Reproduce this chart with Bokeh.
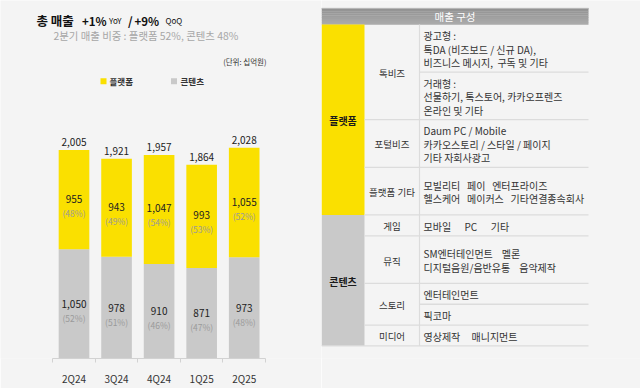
from bokeh.plotting import figure
from bokeh.layouts import row
from bokeh.models import ColumnDataSource, FixedTicker, Range1d
from bokeh.core.properties import value
from bokeh.embed import file_html
from bokeh.resources import INLINE

# ---------------- data ----------------
quarters = ["2Q24", "3Q24", "4Q24", "1Q25", "2Q25"]
platform_rev = [955, 943, 1047, 993, 1055]
content_rev = [1050, 978, 910, 871, 973]
platform_share = ["(48%)", "(49%)", "(54%)", "(53%)", "(52%)"]
content_share = ["(52%)", "(51%)", "(46%)", "(47%)", "(48%)"]
series_names = ["플랫폼", "콘텐츠"]

title_main = "총 매출"
title_yoy = "+1%"
title_qoq = "+9%"
subtitle = "2분기 매출 비중 : 플랫폼 52%, 콘텐츠 48%"
unit_note = "(단위: 십억원)"

table_title = "매출 구성"
group_names = ["플랫폼", "콘텐츠"]
sub_group = ["플랫폼", "플랫폼", "플랫폼", "콘텐츠", "콘텐츠", "콘텐츠", "콘텐츠"]
sub_names = ["톡비즈", "포털비즈", "플랫폼 기타", "게임", "뮤직", "스토리", "미디어"]
sub_blocks = [
    [["광고형 :", "톡DA (비즈보드 / 신규 DA),", "비즈니스 메시지,  구독 및 기타"],
     ["거래형 :", "선물하기, 톡스토어, 카카오프렌즈", "온라인 및 기타"]],
    [["Daum PC / Mobile", "카카오스토리 / 스타일 / 페이지", "기타 자회사광고"]],
    [["모빌리티   페이   엔터프라이즈", "헬스케어   메이커스   기타연결종속회사"]],
    [["모바일      PC      기타"]],
    [["SM엔터테인먼트    멜론", "디지털음원/음반유통    음악제작"]],
    [["엔터테인먼트"], ["픽코마"]],
    [["영상제작     매니지먼트"]],
]

# ---------------- style ----------------
FONT = value("Noto Sans CJK KR")
BG = "#F4F4F4"
YELLOW = "#FAE000"
GREY = "#C9C9C9"
DARK = "#222222"
MID = "#9A9A9A"
RULE = "#DCDCDC"

W1, W2, H = 321, 319, 388

# ---------------- left: stacked bars ----------------
STEP = 42.55          # px per category
X0_PX = 73.5          # px of first bar centre
FB = 364.0            # frame bottom (px)
K = 0.1057            # px per unit
x_start = -X0_PX / STEP
x_end = x_start + W1 / STEP
y_end = FB / K


def fx(px):
    return x_start + px / STEP


def fy(py):
    return (FB - py) / K


p = figure(width=W1, height=H, output_backend="svg", toolbar_location=None,
           x_range=Range1d(x_start, x_end), y_range=Range1d(0, y_end),
           y_axis_location=None, min_border=0, min_border_bottom=int(H - FB),
           background_fill_color=BG, border_fill_color=BG, outline_line_color=None)
p.grid.visible = False

idx = list(range(len(quarters)))
totals = [a + b for a, b in zip(platform_rev, content_rev)]
src = ColumnDataSource(dict(
    x=idx,
    content=content_rev,
    total=totals,
    c_mid=[c / 2 for c in content_rev],
    p_mid=[c + pl / 2 for c, pl in zip(content_rev, platform_rev)],
    total_lbl=[f"{t:,}" for t in totals],
    c_lbl=[f"{c:,}" for c in content_rev],
    p_lbl=[f"{v:,}" for v in platform_rev],
    c_pct=content_share,
    p_pct=platform_share,
))

p.vbar(x="x", bottom=0, top="content", width=0.72, source=src,
       fill_color=GREY, line_color=None)
p.vbar(x="x", bottom="content", top="total", width=0.72, source=src,
       fill_color=YELLOW, line_color=None)

common = dict(source=src, text_font=FONT, text_align="center", text_baseline="middle")
p.text(x="x", y="total", text="total_lbl", y_offset=-8, text_font_size="10px",
       text_color=DARK, **common)
p.text(x="x", y="p_mid", text="p_lbl", y_offset=-1, text_font_size="10px",
       text_color=DARK, **common)
p.text(x="x", y="p_mid", text="p_pct", y_offset=13, text_font_size="8.5px",
       text_color=MID, **common)
p.text(x="x", y="c_mid", text="c_lbl", y_offset=0, text_font_size="10px",
       text_color=DARK, **common)
p.text(x="x", y="c_mid", text="c_pct", y_offset=14, text_font_size="8.5px",
       text_color=MID, **common)

ax = p.xaxis[0]
ax.ticker = FixedTicker(ticks=idx, minor_ticks=[i - 0.5 for i in range(len(quarters) + 1)])
ax.major_label_overrides = {i: q for i, q in enumerate(quarters)}
ax.bounds = (-0.5, len(quarters) - 0.5)
ax.axis_line_color = "#D2D2D2"
ax.major_tick_line_color = None
ax.major_tick_in = 0
ax.major_tick_out = 0
ax.minor_tick_line_color = "#D2D2D2"
ax.minor_tick_in = 0
ax.minor_tick_out = 4
ax.major_label_standoff = 8
ax.major_label_text_font = "Noto Sans CJK KR"
ax.major_label_text_font_size = "10px"
ax.major_label_text_color = "#333333"

# title pieces
tkw = dict(text_font=FONT, text_align="left", text_baseline="alphabetic", text_color="#111111")
p.text(x=[fx(36)], y=[fy(20.5)], text=[title_main], text_font_size="12.5px",
       text_font_style="bold", **tkw)
p.text(x=[fx(81.5)], y=[fy(20.5)], text=[title_yoy], text_font_size="11.5px",
       text_font_style="bold", **tkw)
p.text(x=[fx(108.5)], y=[fy(20.5)], text=["YoY"], text_font_size="8px", **tkw)
p.text(x=[fx(127.5)], y=[fy(20.5)], text=["/"], text_font_size="12px",
       text_font_style="bold", **tkw)
p.text(x=[fx(134)], y=[fy(20.5)], text=[title_qoq], text_font_size="11.5px",
       text_font_style="bold", **tkw)
p.text(x=[fx(165)], y=[fy(20.5)], text=["QoQ"], text_font_size="8px", **tkw)

p.text(x=[fx(53)], y=[fy(36)], text=[subtitle], text_font=FONT, text_font_size="10.4px",
       text_color="#A6A6A6", text_align="left", text_baseline="middle")
p.text(x=[fx(266)], y=[fy(62)], text=[unit_note], text_font=FONT, text_font_size="7.5px",
       text_color="#333333", text_align="right", text_baseline="middle")

# legend
leg_x_sq = [fx(103), fx(173.5)]
leg_x_tx = [fx(109), fx(180)]
p.scatter(x=leg_x_sq, y=[fy(82)] * 2, marker="square", size=6,
          fill_color=[YELLOW, GREY], line_color=None)
p.text(x=leg_x_tx, y=[fy(82)] * 2, text=series_names, text_font=FONT,
       text_font_size="8.5px", text_font_style="bold", text_color="#333333",
       text_align="left", text_baseline="middle")

# ---------------- right: table ----------------
TX0, TC1, TC2, TX1 = 321, 364, 419, 588
HEAD_TOP, HEAD_BOT = 8, 26
LINE_H = 14.5
H_MULTI, H_SINGLE = 51.6, 22.6
TEXT_X = 423

t = figure(width=W2, height=H, output_backend="svg", toolbar_location=None,
           x_range=Range1d(TX0, TX0 + W2), y_range=Range1d(H, 0),
           x_axis_location=None, y_axis_location=None, min_border=0,
           background_fill_color=BG, border_fill_color=BG, outline_line_color=None)
t.grid.visible = False

# header with a soft vertical gradient
n_strips = 9
c_top, c_bot = (146, 146, 146), (170, 170, 170)
strip_h = (HEAD_BOT - HEAD_TOP) / n_strips
s_top, s_bot, s_col = [], [], []
for i in range(n_strips):
    f = i / (n_strips - 1)
    rgb = tuple(int(round(a + (b - a) * f)) for a, b in zip(c_top, c_bot))
    s_top.append(HEAD_TOP + i * strip_h)
    s_bot.append(HEAD_TOP + (i + 1) * strip_h + 0.3)
    s_col.append("#%02x%02x%02x" % rgb)
t.quad(left=TX0, right=TX1, top=s_top, bottom=s_bot, fill_color=s_col, line_color=None)
t.segment(x0=[TX0], y0=[HEAD_TOP + 0.5], x1=[TX1], y1=[HEAD_TOP + 0.5],
          line_color="#BDBDBD", line_width=1)
t.text(x=[(TX0 + TX1) / 2], y=[(HEAD_TOP + HEAD_BOT) / 2 + 0.5], text=[table_title],
       text_font=FONT, text_font_size="10.5px", text_color="#FFFFFF",
       text_align="center", text_baseline="middle")

# layout rows
y = HEAD_BOT
sub_spans, block_spans = [], []
for blocks in sub_blocks:
    start = y
    for lines in blocks:
        h = H_MULTI if len(lines) > 1 else H_SINGLE
        block_spans.append((y, y + h, lines))
        y += h
    sub_spans.append((start, y))
table_bottom = y

group_spans = []
for g in group_names:
    spans = [s for s, sg in zip(sub_spans, sub_group) if sg == g]
    group_spans.append((min(a for a, _ in spans), max(b for _, b in spans)))

t.quad(left=TX0, right=TC1, top=[a for a, _ in group_spans], bottom=[b for _, b in group_spans],
       fill_color=[YELLOW, GREY], line_color=None)
t.text(x=[(TX0 + TC1) / 2] * len(group_names),
       y=[(a + b) / 2 + 1 for a, b in group_spans], text=group_names,
       text_font=FONT, text_font_size="10px", text_font_style="bold", text_color="#1A1A1A",
       text_align="center", text_baseline="middle")

# separators
sub_starts = {round(a, 3) for a, _ in sub_spans}
hx0, hy, hx1 = [], [], []
for a, _, _ in block_spans[1:]:
    hx0.append(TC1 if round(a, 3) in sub_starts else TC2)
    hx1.append(TX1)
    hy.append(a)
hx0.append(TX0); hx1.append(TX1); hy.append(table_bottom)
t.segment(x0=hx0, y0=hy, x1=hx1, y1=hy, line_color=RULE, line_width=1.3)
t.segment(x0=[TC2], y0=[HEAD_BOT], x1=[TC2], y1=[table_bottom], line_color=RULE, line_width=1.2)

# sub-category labels
t.text(x=[(TC1 + TC2) / 2] * len(sub_names), y=[(a + b) / 2 + 1 for a, b in sub_spans],
       text=sub_names, text_font=FONT, text_font_size="9.5px", text_color="#333333",
       text_align="center", text_baseline="middle")

# detail lines
lx, ly, lt = [], [], []
for a, b, lines in block_spans:
    n = len(lines)
    c = (a + b) / 2 + 0.8
    for i, s in enumerate(lines):
        lx.append(TEXT_X)
        ly.append(c + (i - (n - 1) / 2) * LINE_H)
        lt.append(s.replace(" ", "\u00a0"))
t.text(x=lx, y=ly, text=lt, text_font=FONT, text_font_size="10px", text_color="#333333",
       text_align="left", text_baseline="middle")

layout = row(p, t, spacing=0)
open("out.html", "w").write(file_html(layout, INLINE))
